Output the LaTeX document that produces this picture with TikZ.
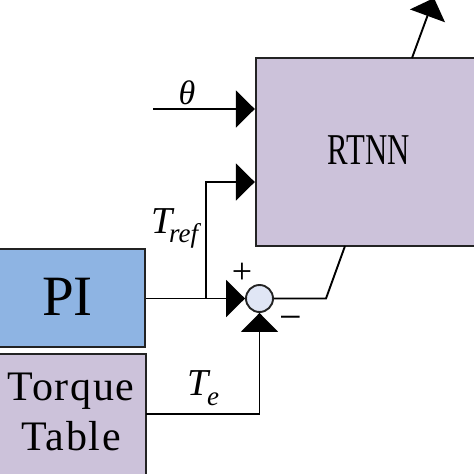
\documentclass[tikz,border=0pt]{standalone}
\usepackage{fontspec}
\setmainfont{Liberation Serif}
\newfontfamily\widefont[LetterSpace=4]{Liberation Serif}
\usetikzlibrary{arrows.meta}
\definecolor{lav}{RGB}{204,194,218}
\definecolor{piblue}{RGB}{142,180,227}
\definecolor{sumfill}{RGB}{224,230,245}
\definecolor{edge}{RGB}{35,35,35}
\tikzset{
  blk/.style={draw=edge, line width=2.4pt, inner sep=0pt},
  tip/.style={-{Triangle[length=19pt,width=37pt]}},
  wire/.style={line width=1.9pt, black},
  lbl/.style={inner sep=0pt, outer sep=0pt},
}
\begin{document}
\begin{tikzpicture}[x=1pt,y=-1pt]
\useasboundingbox (0,0) rectangle (474,474);
% blocks
\node[blk, fill=lav, minimum width=224pt, minimum height=188pt] (rtnn) at (368,152) {};
\node[lbl, font=\fontsize{44}{44}\selectfont] (rtnntext) at (368.5,150) {\scalebox{0.7}[1]{RTNN}};
\node[blk, fill=piblue, minimum width=150pt, minimum height=98pt] (pi) at (70,298) {};
\node[lbl, font=\fontsize{57}{57}\selectfont] (pitext) at (67.5,296.5) {PI};
\node[blk, fill=lav, minimum width=151pt, minimum height=126pt] (tt) at (70.5,417) {};
\node[lbl, align=center, font=\fontsize{42}{50}\widefont] (tttext) at (71,412) {Torque\\Table};
% summing junction
\node[circle, draw=edge, line width=1.9pt, fill=sumfill, minimum size=27pt, inner sep=0pt] (sum) at (259.5,298.5) {};
% coordinates
\coordinate (br) at (206,298.5);
\coordinate (thstart) at (153,109);
\coordinate (ttout) at (146,414);
\coordinate (knee) at (326,298.5);
\coordinate (rtbot) at (345,246);
\coordinate (topstart) at (412,58);
\coordinate (topend) at (434,-2);
% connectors
\draw[wire, tip] (pi.east |- sum) -- (sum.west);
\draw[wire, tip] (br) |- (rtnn.west |- 0,182);
\draw[wire, tip] (thstart) -- (thstart -| rtnn.west);
\draw[wire, tip] (ttout) -| (sum.south);
\draw[wire] (sum.east) -- (knee) -- (rtbot);
\draw[wire, tip] (topstart) -- (topend);
% labels
\node[lbl, anchor=base, font=\fontsize{34}{34}\selectfont\itshape] (theta) at (187,104) {θ};
\node[lbl, anchor=base west, font=\fontsize{38}{38}\selectfont\itshape] (tref) at (151,233) {T\kern-3pt\raisebox{-9pt}{\fontsize{27}{27}\selectfont ref}};
\node[lbl, anchor=base west, font=\fontsize{38}{38}\selectfont\itshape] (te) at (187,395) {T\kern-1pt\raisebox{-10pt}{\fontsize{27}{27}\selectfont e}};
\node[lbl, font=\fontsize{36}{36}\selectfont] (plus) at (242,273) {+};
\node[lbl, font=\fontsize{40}{40}\selectfont] (minus) at (291,323) {−};
\end{tikzpicture}
\end{document}
